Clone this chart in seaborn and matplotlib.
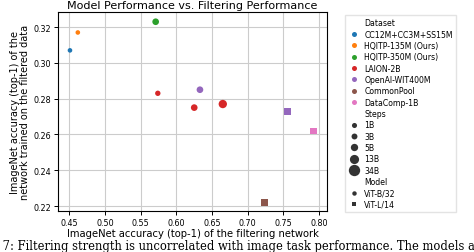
import numpy as np
import pandas as pd
import matplotlib
matplotlib.use("Agg")
import matplotlib.pyplot as plt
import seaborn as sns

# values
datasets = ["CC12M+CC3M+SS15M", "HQITP-135M (Ours)", "HQITP-350M (Ours)",
            "LAION-2B", "LAION-2B", "LAION-2B", "OpenAI-WIT400M",
            "OpenAI-WIT400M", "DataComp-1B", "CommonPool"]
filter_acc = [0.451, 0.462, 0.571, 0.574, 0.625, 0.665, 0.633, 0.756, 0.792, 0.723]
model_acc = [0.307, 0.317, 0.323, 0.283, 0.275, 0.277, 0.285, 0.273, 0.262, 0.222]
steps = ["1B", "1B", "5B", "3B", "5B", "13B", "5B", "5B", "5B", "5B"]
models = ["ViT-B/32"] * 7 + ["ViT-L/14"] * 3

dataset_order = ["CC12M+CC3M+SS15M", "HQITP-135M (Ours)", "HQITP-350M (Ours)",
                 "LAION-2B", "OpenAI-WIT400M", "CommonPool", "DataComp-1B"]
step_order = ["1B", "3B", "5B", "13B", "34B"]
step_sizes = {"1B": 11, "3B": 15, "5B": 23, "13B": 36, "34B": 55}
model_order = ["ViT-B/32", "ViT-L/14"]

df = pd.DataFrame({"Dataset": datasets, "filter": filter_acc, "acc": model_acc,
                   "Steps": steps, "Model": models})

plt.rcParams["font.family"] = ["DejaVu Sans"]
fig = plt.figure(figsize=(4.74, 2.53), dpi=100)
ax = fig.add_axes([0.122, 0.162, 0.568, 0.787])
ax.grid(True, color="#cccccc", linewidth=0.8)
ax.set_axisbelow(True)

sns.scatterplot(data=df, x="filter", y="acc", hue="Dataset", hue_order=dataset_order,
                size="Steps", size_order=step_order, sizes=step_sizes,
                style="Model", style_order=model_order, markers=["o", "s"],
                palette="tab10", linewidth=0, ax=ax)

ax.set_xlim(0.434, 0.811)
ax.set_ylim(0.2172, 0.3285)
ax.set_xticks(np.arange(0.45, 0.801, 0.05))
ax.set_yticks(np.arange(0.22, 0.321, 0.02))
ax.tick_params(labelsize=5.8, length=3, width=0.7, pad=2)
for s in ax.spines.values():
    s.set_linewidth(0.8)
ax.set_title("Model Performance vs. Filtering Performance", fontsize=8, pad=3)
ax.set_xlabel("ImageNet accuracy (top-1) of the filtering network", fontsize=7.2, labelpad=1)
ax.set_ylabel("ImageNet accuracy (top-1) of the\nnetwork trained on the filtered data",
              fontsize=7.0, labelpad=2, linespacing=1.0)

handles, labels = ax.get_legend_handles_labels()
# legend marker sizes as in the reference
for h, l in zip(handles, labels):
    if l in dataset_order:
        h.set_markersize(3.6)
    elif l in step_order:
        h.set_markersize(h.get_markersize() * 1.1)
        h.set_color("#333333")
    elif l in model_order:
        h.set_markersize(3.2)
        h.set_color("#333333")
ax.get_legend().remove()
fig.legend(handles, labels, loc="upper left", bbox_to_anchor=(0.728, 0.937),
           borderaxespad=0, fontsize=5.6, frameon=True, edgecolor="#dddddd",
           fancybox=False, labelspacing=0.3, handletextpad=0.7, borderpad=0.45,
           handlelength=1.3)

fig.text(-0.05, 0.025, "Fig. 7: Filtering strength is uncorrelated with image task performance. The models are",
         fontsize=8.3, family=["DejaVu Serif"], va="center")

fig.savefig("out.png", dpi=100)
